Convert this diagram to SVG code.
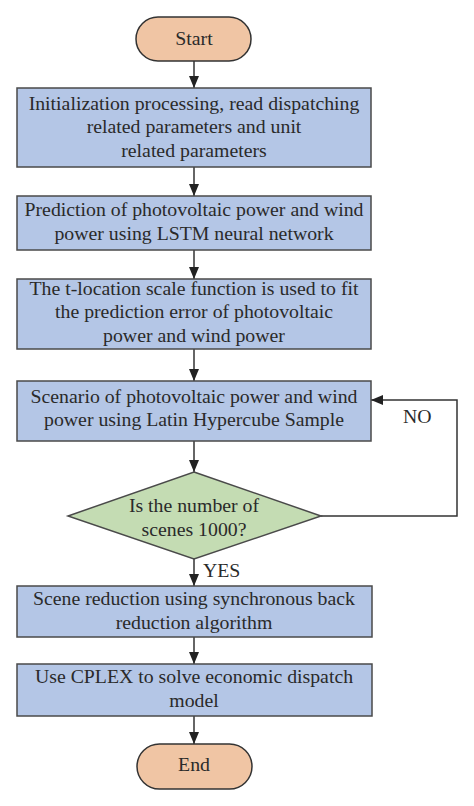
<svg xmlns="http://www.w3.org/2000/svg" width="474" height="806" viewBox="0 0 474 806">
<defs>
<marker id="ah" viewBox="0 0 12 10" refX="12" refY="5" markerWidth="12" markerHeight="10" markerUnits="userSpaceOnUse" orient="auto">
<path d="M0,0 L12,5 L0,10 Z" fill="#222"/>
</marker>
<style>
.box{fill:#b4c6e6;stroke:#4a4a4a;stroke-width:1.5}
.term{fill:#f0c5a4;stroke:#333;stroke-width:1.5}
.dec{fill:#c4dcb3;stroke:#4a4a4a;stroke-width:1.5}
.t{font-family:"Liberation Serif","Times New Roman",serif;font-size:19.8px;fill:#2a2a2a;text-anchor:middle}
.lbl{font-family:"Liberation Serif","Times New Roman",serif;font-size:19.8px;fill:#2a2a2a}
.c{fill:none;stroke:#333;stroke-width:1.5}
</style>
</defs>
<rect width="474" height="806" fill="#fff"/>
<g id="connectors">
<line class="c" x1="194" y1="61" x2="194" y2="88" marker-end="url(#ah)"/>
<line class="c" x1="194" y1="167" x2="194" y2="196" marker-end="url(#ah)"/>
<line class="c" x1="194" y1="250" x2="194" y2="279" marker-end="url(#ah)"/>
<line class="c" x1="194" y1="349" x2="194" y2="381" marker-end="url(#ah)"/>
<line class="c" x1="194" y1="441" x2="194" y2="472" marker-end="url(#ah)"/>
<line class="c" x1="194" y1="559" x2="194" y2="586" marker-end="url(#ah)"/>
<line class="c" x1="194" y1="637" x2="194" y2="664" marker-end="url(#ah)"/>
<line class="c" x1="194" y1="716" x2="194" y2="744" marker-end="url(#ah)"/>
<polyline class="c" points="321,516 457,516 457,400 371,400" marker-end="url(#ah)"/>
<text class="lbl" x="403" y="423">NO</text>
<text class="lbl" x="203" y="577">YES</text>
</g>
<g id="start">
<rect class="term" x="136" y="17" width="115" height="44" rx="22"/>
<text class="t" x="194" y="45">Start</text>
</g>
<g id="init">
<rect class="box" x="17" y="88" width="354" height="79"/>
<text class="t" x="194" y="109.5">Initialization processing, read dispatching</text>
<text class="t" x="194" y="133">related parameters and unit</text>
<text class="t" x="194" y="156.5">related parameters</text>
</g>
<g id="predict">
<rect class="box" x="17" y="196" width="354" height="54"/>
<text class="t" x="194" y="215.5">Prediction of photovoltaic power and wind</text>
<text class="t" x="194" y="239.5">power using LSTM neural network</text>
</g>
<g id="fit">
<rect class="box" x="17" y="279" width="354" height="70"/>
<text class="t" x="194" y="294.5">The t-location scale function is used to fit</text>
<text class="t" x="194" y="318">the prediction error of photovoltaic</text>
<text class="t" x="194" y="341.5">power and wind power</text>
</g>
<g id="scenario">
<rect class="box" x="17" y="381" width="354" height="60"/>
<text class="t" x="194" y="402.5">Scenario of photovoltaic power and wind</text>
<text class="t" x="194" y="426">power using Latin Hypercube Sample</text>
</g>
<g id="decision">
<polygon class="dec" points="194,472 321,516 194,559 68,516"/>
<text class="t" x="194" y="512">Is the number of</text>
<text class="t" x="194" y="536">scenes 1000?</text>
</g>
<g id="reduce">
<rect class="box" x="17" y="586" width="355" height="51"/>
<text class="t" x="194" y="604.5">Scene reduction using synchronous back</text>
<text class="t" x="194" y="628.5">reduction algorithm</text>
</g>
<g id="cplex">
<rect class="box" x="17" y="664" width="355" height="52"/>
<text class="t" x="194" y="682.5">Use CPLEX to solve economic dispatch</text>
<text class="t" x="194" y="706.5">model</text>
</g>
<g id="end">
<rect class="term" x="137" y="744" width="115" height="45" rx="22.5"/>
<text class="t" x="194" y="771">End</text>
</g>
</svg>
